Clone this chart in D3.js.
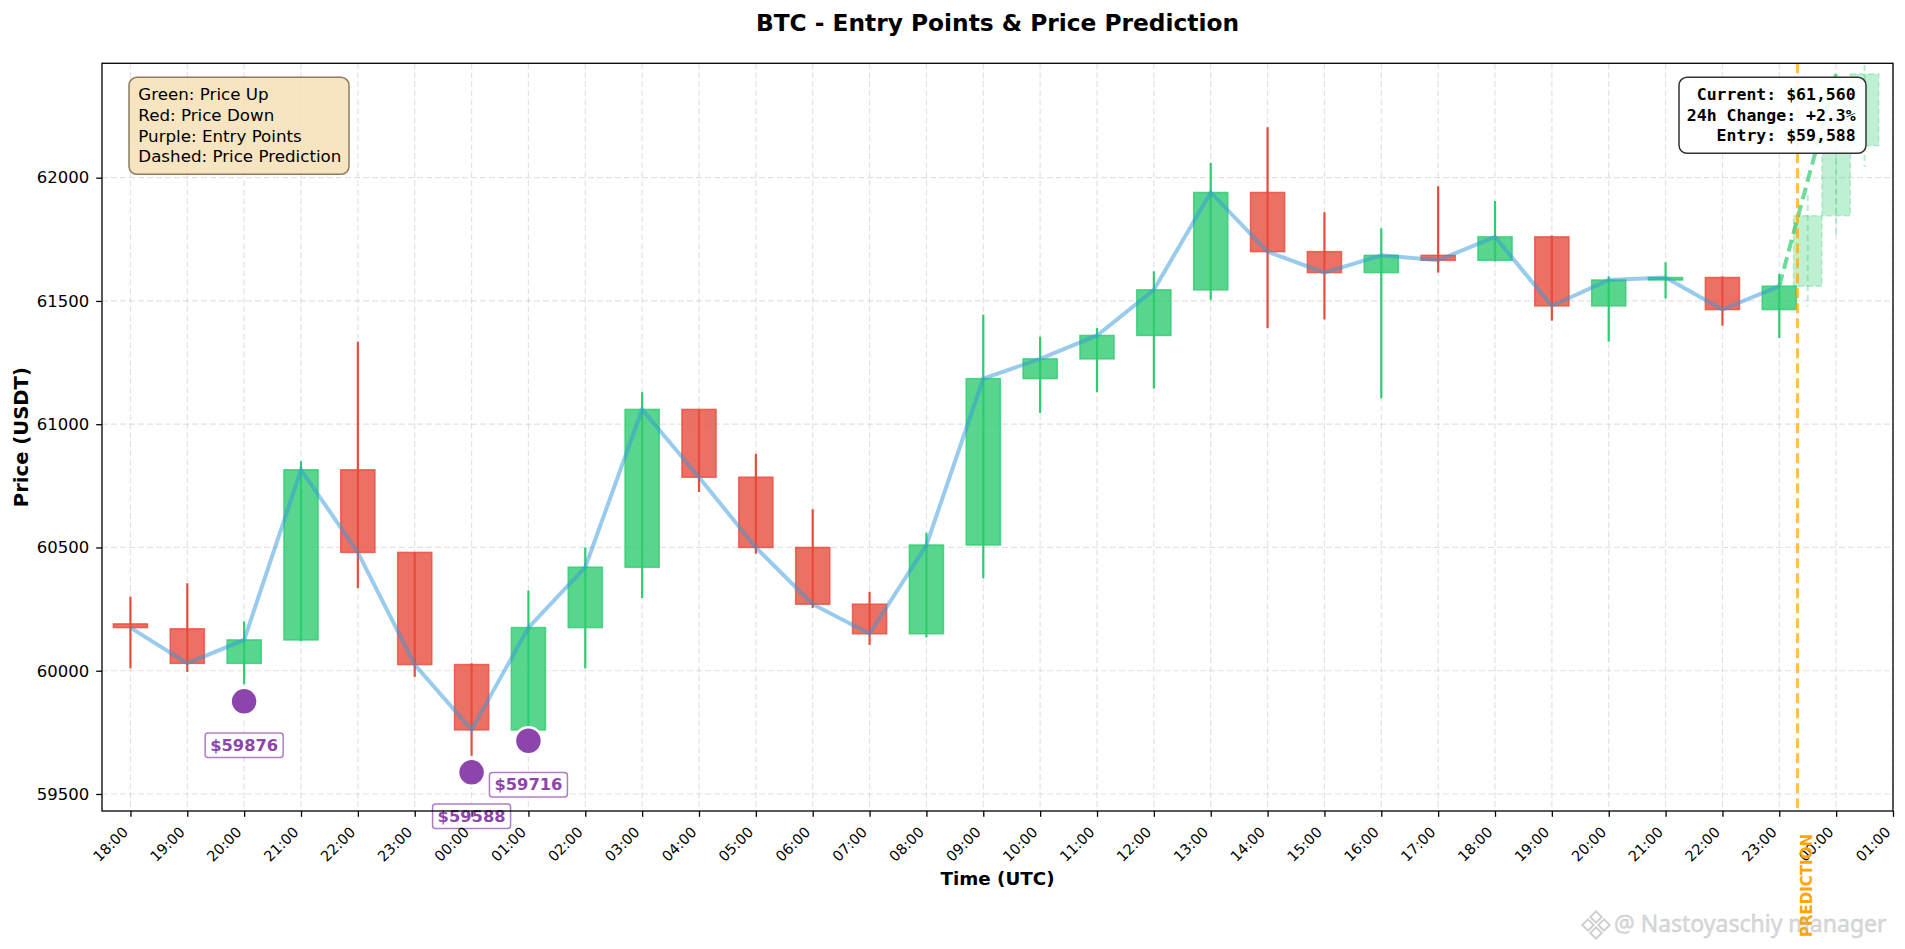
<!DOCTYPE html>
<html>
<head>
<meta charset="utf-8">
<script src="https://cdn.jsdelivr.net/npm/d3@7"></script>
<style>
  body { margin: 0; background: #fff; }
  svg { font-family: "DejaVu Sans", sans-serif; display: block; }
</style>
</head>
<body>
<div id="chart"></div>
<script>
// hourly candles, hour offset from 18:00
const timeLabels = ["18:00","19:00","20:00","21:00","22:00","23:00","00:00","01:00","02:00","03:00",
  "04:00","05:00","06:00","07:00","08:00","09:00","10:00","11:00","12:00","13:00","14:00","15:00",
  "16:00","17:00","18:00","19:00","20:00","21:00","22:00","23:00","00:00","01:00"];
const candleHours = [0,1,2,3,4,5,6,7,8,9,10,11,12,13,14,15,16,17,18,19,20,21,22,23,24,25,26,27,28,29];
const opens  = [60190,60170,60030,60125,60815,60480,60025,59760,60175,60420,61060,60785,60500,60270,60150,
  60510,61185,61265,61360,61545,61940,61700,61615,61685,61665,61760,61480,61585,61595,61465];
const highs  = [60300,60355,60200,60850,61335,60480,60030,60325,60500,61130,61060,60880,60655,60320,60560,
  61445,61355,61390,61620,62060,62205,61860,61795,61965,61905,61765,61600,61657,61600,61610];
const lows   = [60010,59995,59945,60120,60335,59975,59655,59760,60010,60295,60725,60475,60255,60105,60135,
  60375,61045,61130,61145,61505,61390,61425,61105,61615,61660,61420,61335,61510,61400,61350];
const closes = [60175,60030,60125,60815,60480,60025,59760,60175,60420,61060,60785,60500,60270,60150,60510,
  61185,61265,61360,61545,61940,61700,61615,61685,61665,61760,61480,61585,61595,61465,61560];

// entry points
const entryHours = [2, 6, 7];
const entryPrices = [59876, 59588, 59716];

// prediction candles (half-hour)
const predHours  = [29.5, 30, 30.5];
const predOpens  = [61560, 61846, 62130];
const predHighs  = [61930, 62200, 62457];
const predLows   = [61477, 61760, 62043];
const predCloses = [61846, 62130, 62421];
const predLineHours  = [29, 29.333, 29.667, 30];
const predLinePrices = [61560, 61846, 62130, 62421];
const predictionStart = 29.32;

const yTicks = [59500, 60000, 60500, 61000, 61500, 62000];
const legendLines = ["Green: Price Up", "Red: Price Down", "Purple: Entry Points", "Dashed: Price Prediction"];
const infoLines = ["Current: $61,560", "24h Change: +2.3%", "Entry: $59,588"];

const W = 1905, H = 949;
const plot = { left: 102, right: 1893, top: 63.3, bottom: 811 };
const GREEN = "#2ecc71", RED = "#e74c3c", PURPLE = "#8e44ad";

const svg = d3.select("#chart").append("svg").attr("width", W).attr("height", H);

const x = d3.scaleLinear().domain([-0.5, 31]).range([plot.left, plot.right]);
const y = d3.scaleLinear().domain([59431, 62464]).range([plot.bottom, plot.top]);

svg.append("clipPath").attr("id", "clip").append("rect")
  .attr("x", plot.left).attr("y", plot.top)
  .attr("width", plot.right - plot.left).attr("height", plot.bottom - plot.top);

// grid
const grid = svg.append("g");
grid.selectAll("line.v").data(timeLabels.map((d, i) => i)).enter().append("line")
  .attr("x1", d => x(d)).attr("x2", d => x(d))
  .attr("y1", plot.top).attr("y2", plot.bottom)
  .attr("stroke", "#b0b0b0").attr("stroke-opacity", 0.35)
  .attr("stroke-dasharray", "6,3").attr("stroke-width", 1.2);
grid.selectAll("line.h").data(yTicks).enter().append("line")
  .attr("x1", plot.left).attr("x2", plot.right)
  .attr("y1", d => y(d)).attr("y2", d => y(d))
  .attr("stroke", "#b0b0b0").attr("stroke-opacity", 0.35)
  .attr("stroke-dasharray", "6,3").attr("stroke-width", 1.2);

const g = svg.append("g").attr("clip-path", "url(#clip)");

// candles
const candles = candleHours.map((h, i) => ({ h, o: opens[i], hi: highs[i], lo: lows[i], c: closes[i] }));
const bodyW = x(0.6) - x(0);
g.selectAll("rect.body").data(candles).enter().append("rect")
  .attr("x", d => x(d.h) - bodyW / 2)
  .attr("width", bodyW)
  .attr("y", d => y(Math.max(d.o, d.c)))
  .attr("height", d => Math.max(1.5, Math.abs(y(d.o) - y(d.c))))
  .attr("fill", d => d.c >= d.o ? GREEN : RED).attr("fill-opacity", 0.8)
  .attr("stroke", d => d.c >= d.o ? GREEN : RED).attr("stroke-opacity", 0.8)
  .attr("stroke-width", 1.5);
g.selectAll("line.wick").data(candles).enter().append("line")
  .attr("x1", d => x(d.h)).attr("x2", d => x(d.h))
  .attr("y1", d => y(d.hi)).attr("y2", d => y(d.lo))
  .attr("stroke", d => d.c >= d.o ? GREEN : RED).attr("stroke-width", 2.2);

// close line
g.append("path").datum(candles)
  .attr("d", d3.line().x(d => x(d.h)).y(d => y(d.c)))
  .attr("fill", "none").attr("stroke", "#3498db").attr("stroke-opacity", 0.5)
  .attr("stroke-width", 4);

// prediction candles
const preds = predHours.map((h, i) => ({ h, o: predOpens[i], hi: predHighs[i], lo: predLows[i], c: predCloses[i] }));
const predW = x(0.5) - x(0);
g.selectAll("line.pwick").data(preds).enter().append("line")
  .attr("x1", d => x(d.h)).attr("x2", d => x(d.h))
  .attr("y1", d => y(d.hi)).attr("y2", d => y(d.lo))
  .attr("stroke", GREEN).attr("stroke-opacity", 0.35).attr("stroke-width", 2)
  .attr("stroke-dasharray", "6,4");
g.selectAll("rect.pbody").data(preds).enter().append("rect")
  .attr("x", d => x(d.h) - predW / 2).attr("width", predW)
  .attr("y", d => y(Math.max(d.o, d.c)))
  .attr("height", d => Math.abs(y(d.o) - y(d.c)))
  .attr("fill", GREEN).attr("fill-opacity", 0.3)
  .attr("stroke", GREEN).attr("stroke-opacity", 0.3).attr("stroke-width", 1.5)
  .attr("stroke-dasharray", "6,3");

// prediction line
g.append("path").datum(predLineHours.map((h, i) => [h, predLinePrices[i]]))
  .attr("d", d3.line().x(d => x(d[0])).y(d => y(d[1])))
  .attr("fill", "none").attr("stroke", GREEN).attr("stroke-opacity", 0.7)
  .attr("stroke-width", 4).attr("stroke-dasharray", "12,6");

// prediction start marker
g.append("line")
  .attr("x1", x(predictionStart)).attr("x2", x(predictionStart))
  .attr("y1", plot.top).attr("y2", plot.bottom)
  .attr("stroke", "#ffa500").attr("stroke-opacity", 0.7)
  .attr("stroke-width", 3).attr("stroke-dasharray", "10,5");

// entry points
const entries = entryHours.map((h, i) => ({ h, p: entryPrices[i] }));
g.selectAll("circle.entry").data(entries).enter().append("circle")
  .attr("cx", d => x(d.h)).attr("cy", d => y(d.p)).attr("r", 13.5)
  .attr("fill", PURPLE).attr("stroke", "#fff").attr("stroke-width", 2.5);

const labels = svg.append("g").selectAll("g").data(entries).enter().append("g")
  .attr("transform", d => `translate(${x(d.h)},${y(d.p) + 44})`);
labels.append("rect").attr("class", "lbox");
labels.append("text")
  .attr("text-anchor", "middle").attr("dominant-baseline", "central")
  .attr("font-size", 16.3).attr("font-weight", "bold").attr("fill", PURPLE)
  .text(d => "$" + d.p);
labels.each(function() {
  const t = d3.select(this).select("text").node().getBBox();
  d3.select(this).select("rect")
    .attr("x", t.x - 5).attr("y", -12.2).attr("width", t.width + 10).attr("height", 24.4)
    .attr("rx", 3).attr("fill", "#fff").attr("stroke", PURPLE).attr("stroke-opacity", 0.7)
    .attr("stroke-width", 1.5);
});

// legend box
const leg = svg.append("g");
leg.append("rect").attr("x", 129).attr("y", 77.3).attr("width", 220).attr("height", 97)
  .attr("rx", 8).attr("fill", "#f5deb3").attr("fill-opacity", 0.8)
  .attr("stroke", "#8c7b5e").attr("stroke-width", 1.5);
leg.selectAll("text").data(legendLines).enter().append("text")
  .attr("x", 138.3).attr("y", (d, i) => 100 + i * 20.8)
  .attr("font-size", 16.7).attr("fill", "#000").text(d => d);

// info box
const info = svg.append("g");
info.append("rect").attr("x", 1679).attr("y", 77.3).attr("width", 187).attr("height", 76)
  .attr("rx", 8).attr("fill", "#fff").attr("fill-opacity", 0.9)
  .attr("stroke", "#333").attr("stroke-width", 1.5);
info.selectAll("text").data(infoLines).enter().append("text")
  .attr("x", 1855.7).attr("y", (d, i) => 100 + i * 20.5)
  .attr("text-anchor", "end").attr("font-family", "'DejaVu Sans Mono', monospace")
  .attr("font-weight", "bold").attr("font-size", 16.5).text(d => d);

// frame
svg.append("rect").attr("x", plot.left).attr("y", plot.top)
  .attr("width", plot.right - plot.left).attr("height", plot.bottom - plot.top)
  .attr("fill", "none").attr("stroke", "#000").attr("stroke-width", 1.3);

// axes
const xAxis = svg.append("g").attr("transform", `translate(0,${plot.bottom})`)
  .call(d3.axisBottom(x).tickValues(timeLabels.map((d, i) => i))
    .tickFormat(i => timeLabels[i]).tickSize(5.8).tickSizeOuter(0));
xAxis.select(".domain").remove();
xAxis.selectAll(".tick line").attr("stroke", "#000").attr("stroke-width", 1.3);
xAxis.selectAll(".tick text")
  .attr("font-size", 14.5).attr("font-family", "DejaVu Sans").attr("fill", "#000")
  .attr("text-anchor", "end").attr("dy", null).attr("y", null)
  .attr("transform", "translate(-2,22) rotate(-45)");

const yAxis = svg.append("g").attr("transform", `translate(${plot.left},0)`)
  .call(d3.axisLeft(y).tickValues(yTicks).tickFormat(d3.format("d")).tickSize(5.8).tickPadding(7));
yAxis.select(".domain").remove();
yAxis.selectAll(".tick line").attr("stroke", "#000").attr("stroke-width", 1.3);
yAxis.selectAll(".tick text").attr("font-size", 16.5).attr("font-family", "DejaVu Sans").attr("fill", "#000");

// titles
svg.append("text").attr("x", (plot.left + plot.right) / 2).attr("y", 30.5)
  .attr("text-anchor", "middle").attr("font-weight", "bold").attr("font-size", 23.3)
  .text("BTC - Entry Points & Price Prediction");
svg.append("text").attr("x", (plot.left + plot.right) / 2).attr("y", 885)
  .attr("text-anchor", "middle").attr("font-weight", "bold").attr("font-size", 18.3)
  .text("Time (UTC)");
svg.append("text").attr("transform", `translate(27.5,${(plot.top + plot.bottom) / 2}) rotate(-90)`)
  .attr("text-anchor", "middle").attr("font-weight", "bold").attr("font-size", 19.6)
  .text("Price (USDT)");

// prediction label
svg.append("text").attr("transform", `translate(1812,937) rotate(-90)`)
  .attr("font-weight", "bold").attr("font-size", 15).attr("fill", "#ffa500")
  .text("PREDICTION");

// watermark
const wm = svg.append("g").attr("opacity", 0.55);
[[1596, 917], [1588, 925], [1604, 925], [1596, 933]].forEach(p => {
  wm.append("rect").attr("x", -4).attr("y", -4).attr("width", 8).attr("height", 8)
    .attr("transform", `translate(${p[0]},${p[1]}) rotate(45)`)
    .attr("fill", "none").attr("stroke", "#aaa").attr("stroke-width", 2);
});
wm.append("text").attr("x", 1614).attr("y", 932)
  .attr("font-family", "'Noto Sans', 'Open Sans', sans-serif").attr("font-size", 23)
  .attr("fill", "#bbb").attr("stroke", "#999").attr("stroke-width", 0.4)
  .text("@ Nastoyaschiy manager");
</script>
</body>
</html>
